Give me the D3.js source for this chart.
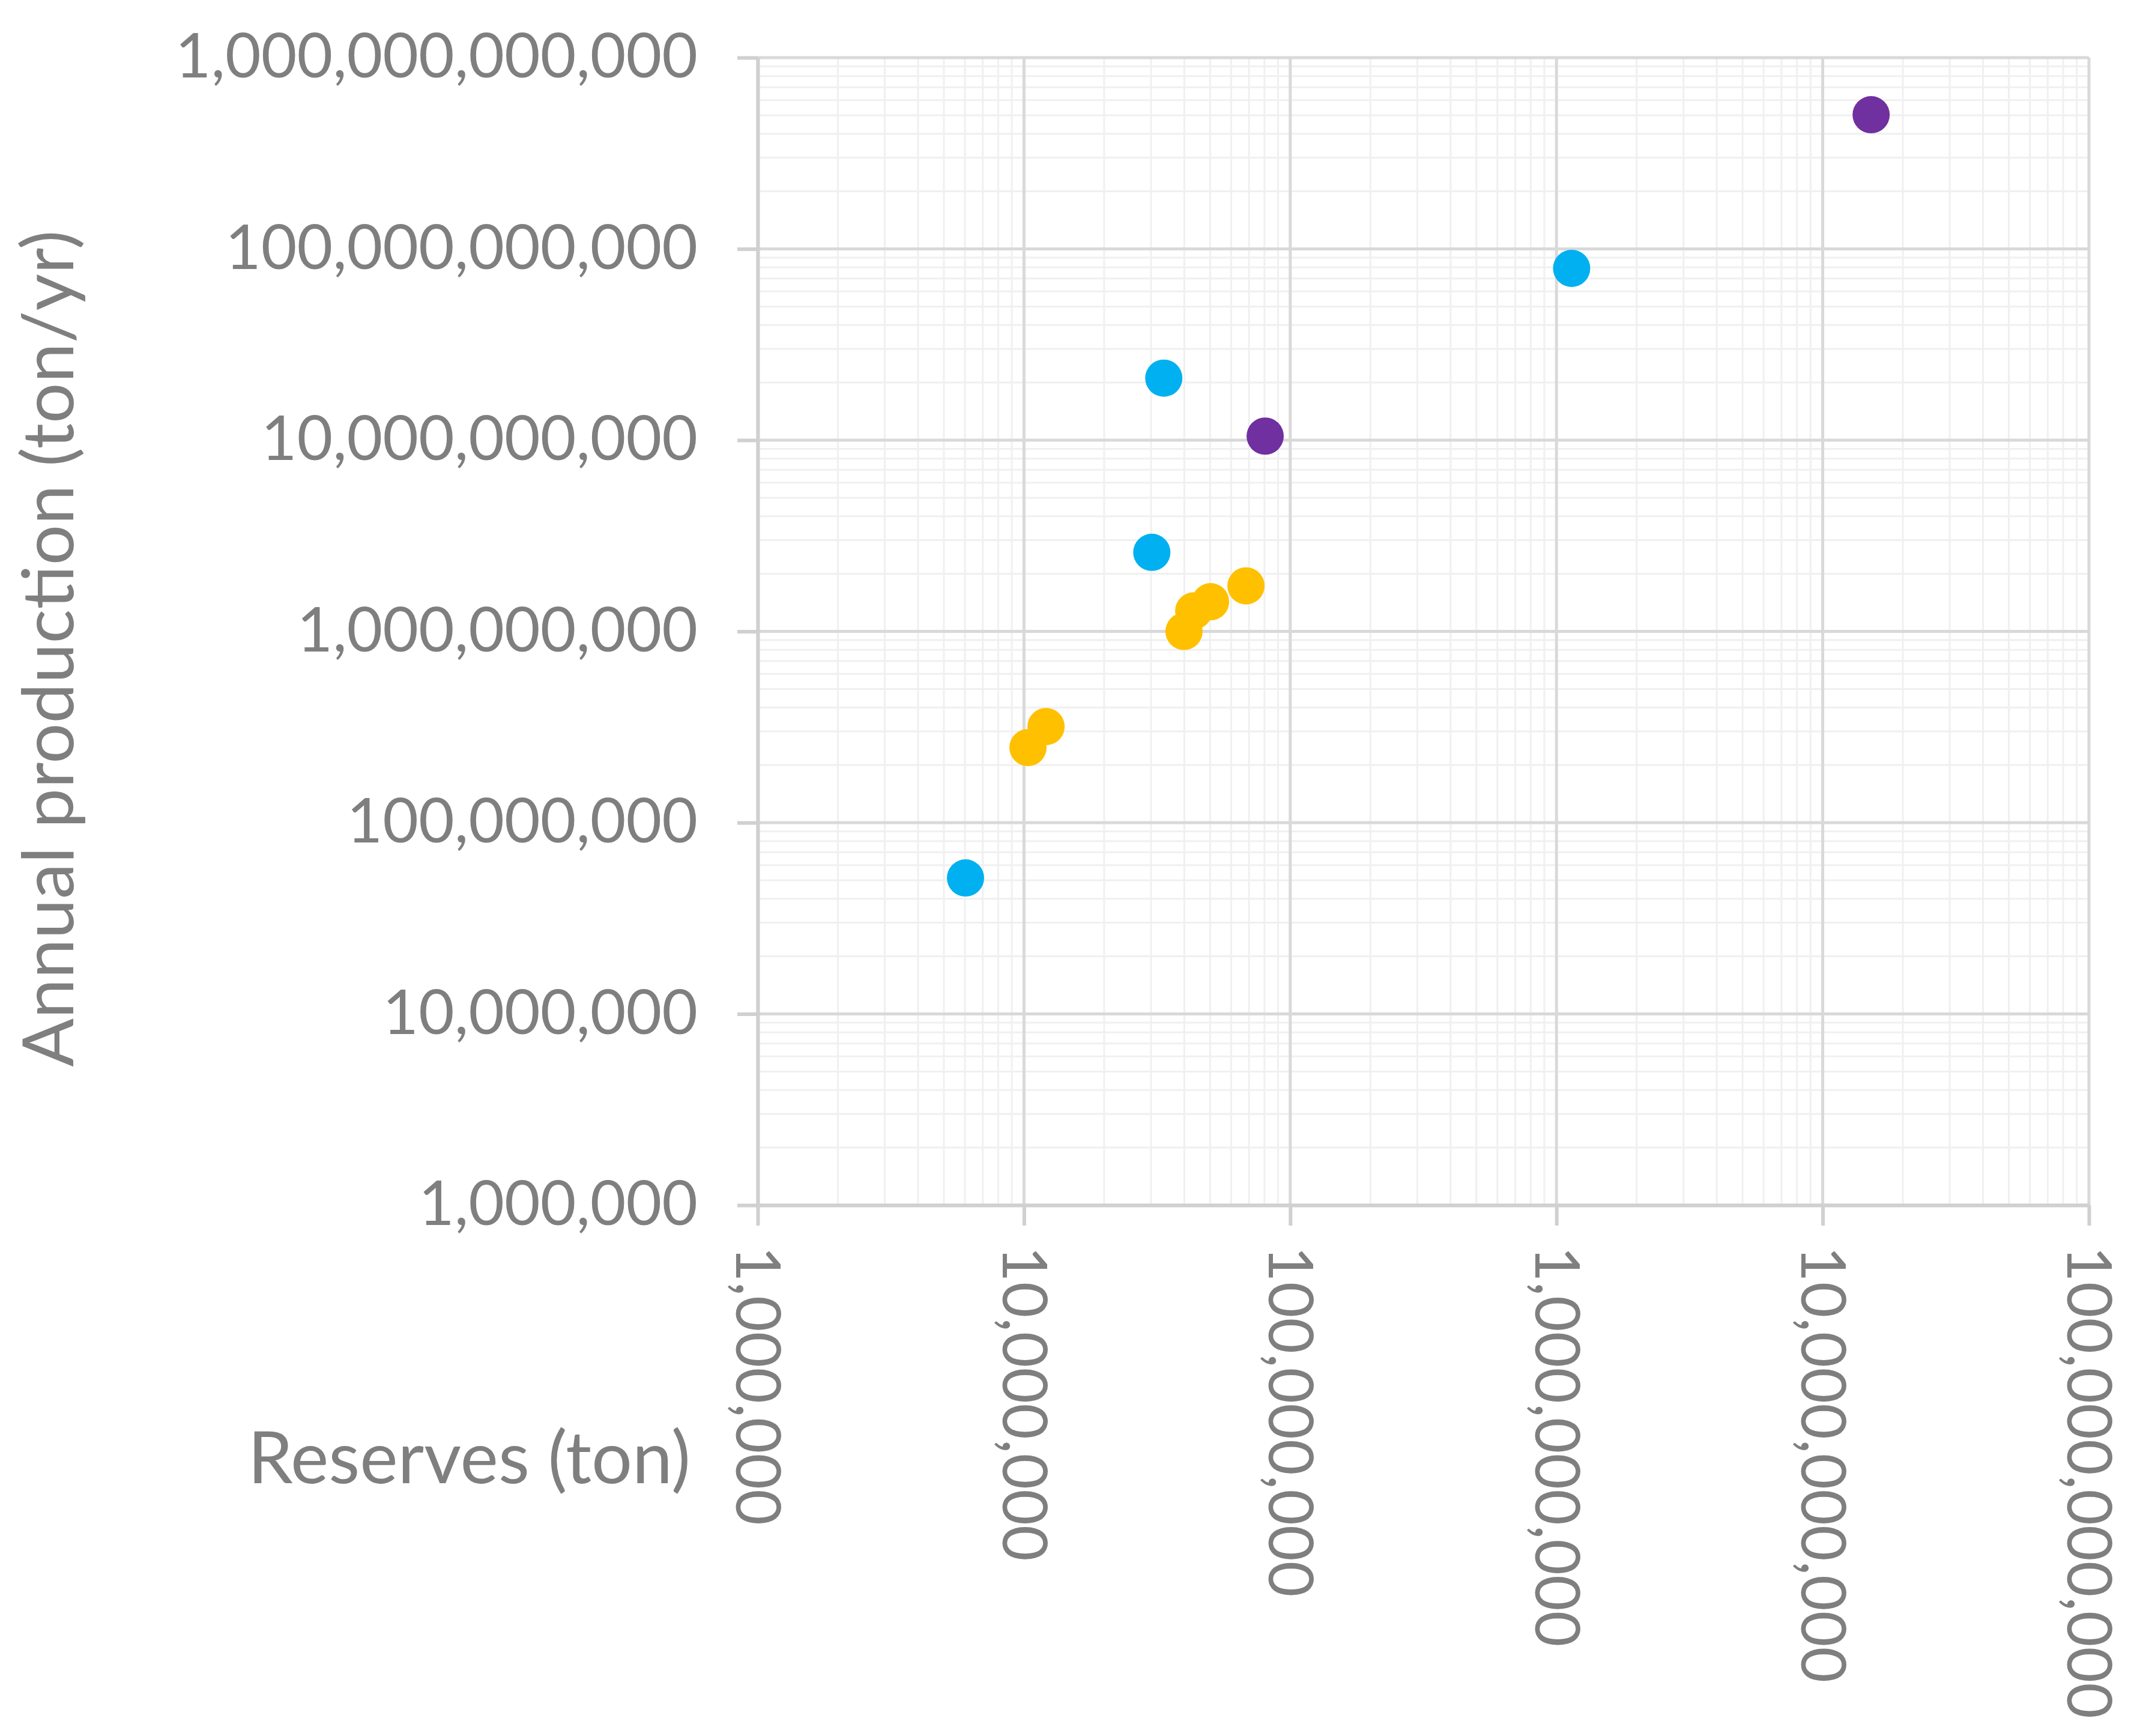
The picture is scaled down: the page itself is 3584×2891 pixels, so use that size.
<!DOCTYPE html>
<html>
<head>
<meta charset="utf-8">
<script src="https://cdn.jsdelivr.net/npm/d3@7"></script>
<style>
  body { margin: 0; background: #fff; }
  svg text { font-family: Lato, "Open Sans", sans-serif; fill: #7f7f7f; }
</style>
</head>
<body>
<script>
// values (tons, tons/yr)
const blueReserves = [6.03e6, 3.02e7, 3.35e7, 1.14e9]
const blueProduction = [5.14e7, 2.59e9, 2.11e10, 7.91e10]
const yellowReserves = [1.035e7, 1.21e7, 3.99e7, 4.34e7, 5.02e7, 6.82e7]
const yellowProduction = [2.47e8, 3.18e8, 1.0e9, 1.28e9, 1.43e9, 1.73e9]
const purpleReserves = [8.05e7, 1.52e10]
const purpleProduction = [1.05e10, 5.03e11]

const xTicks = [1e6, 1e7, 1e8, 1e9, 1e10, 1e11]
const yTicks = [1e6, 1e7, 1e8, 1e9, 1e10, 1e11, 1e12]

const series = [
  { name: "blue", color: "#00b0f0", xs: blueReserves, ys: blueProduction },
  { name: "yellow", color: "#ffc000", xs: yellowReserves, ys: yellowProduction },
  { name: "purple", color: "#7030a0", xs: purpleReserves, ys: purpleProduction }
]

const W = 3584, H = 2891
const plotLeft = 1262, plotRight = 3479, plotTop = 96, plotBottom = 2007

var svg = d3.select("body").append("svg")
    .attr("width", W)
    .attr("height", H)

var x = d3.scaleLog().domain([1e6, 1e11]).range([plotLeft, plotRight])
var y = d3.scaleLog().domain([1e6, 1e12]).range([plotBottom, plotTop])
var fmt = d3.format(",.0f")

// minor grid
svg.append("g").selectAll("line")
    .data(x.ticks().filter(d => xTicks.indexOf(d) < 0))
    .enter().append("line")
    .attr("x1", d => x(d)).attr("x2", d => x(d))
    .attr("y1", plotTop).attr("y2", plotBottom)
    .attr("stroke", "#f0f0f0").attr("stroke-width", 3)
svg.append("g").selectAll("line")
    .data(y.ticks().filter(d => yTicks.indexOf(d) < 0))
    .enter().append("line")
    .attr("y1", d => y(d)).attr("y2", d => y(d))
    .attr("x1", plotLeft).attr("x2", plotRight)
    .attr("stroke", "#f0f0f0").attr("stroke-width", 3)

// major grid
svg.append("g").selectAll("line")
    .data(xTicks)
    .enter().append("line")
    .attr("x1", d => x(d)).attr("x2", d => x(d))
    .attr("y1", plotTop).attr("y2", plotBottom)
    .attr("stroke", "#d9d9d9").attr("stroke-width", 5)
svg.append("g").selectAll("line")
    .data(yTicks)
    .enter().append("line")
    .attr("y1", d => y(d)).attr("y2", d => y(d))
    .attr("x1", plotLeft).attr("x2", plotRight)
    .attr("stroke", "#d9d9d9").attr("stroke-width", 5)

// axes
var yAxis = svg.append("g")
    .attr("transform", "translate(" + plotLeft + ",0)")
    .call(d3.axisLeft(y).tickValues(yTicks).tickFormat(fmt).tickSize(34).tickSizeOuter(0).tickPadding(66))
yAxis.selectAll("text").attr("font-size", 103).style("fill", "#7f7f7f")

var xAxis = svg.append("g")
    .attr("transform", "translate(0," + plotBottom + ")")
    .call(d3.axisBottom(x).tickValues(xTicks).tickFormat(fmt).tickSize(34).tickSizeOuter(0))
xAxis.selectAll("text")
    .attr("font-size", 103)
    .attr("text-anchor", "start")
    .attr("dy", "0.35em")
    .attr("y", 0)
    .attr("transform", "translate(0,68) rotate(90)")
    .style("fill", "#7f7f7f")

svg.selectAll(".domain").attr("stroke", "#d0d0d0").attr("stroke-width", 6)
svg.selectAll(".tick line").attr("stroke", "#d0d0d0").attr("stroke-width", 6)

// points
series.forEach(function (s) {
  svg.append("g").selectAll("circle")
      .data(s.xs.map((v, i) => [v, s.ys[i]]))
      .enter()
      .append("circle")
      .attr("cx", d => x(d[0]))
      .attr("cy", d => y(d[1]))
      .attr("r", 31)
      .attr("fill", s.color)
})

// titles
svg.append("text")
    .attr("transform", "translate(122,1080) rotate(-90)")
    .attr("text-anchor", "middle")
    .attr("font-size", 119)
    .text("Annual production (ton/yr)")

svg.append("text")
    .attr("x", 1150)
    .attr("y", 2470)
    .attr("text-anchor", "end")
    .attr("font-size", 120)
    .text("Reserves (ton)")
</script>
</body>
</html>
